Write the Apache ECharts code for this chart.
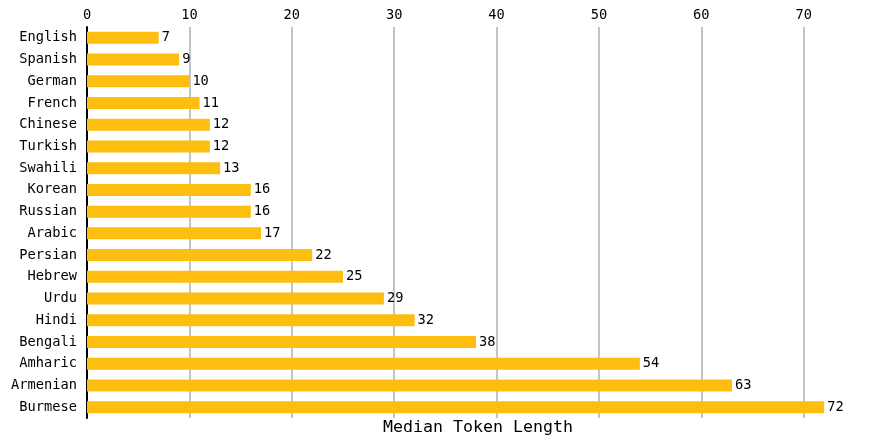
<!DOCTYPE html>
<html>
<head>
<meta charset="utf-8">
<script src="https://cdn.jsdelivr.net/npm/echarts@6/dist/echarts.min.js"></script>
<style>html,body{margin:0;padding:0;background:#fff}#c{width:871px;height:444px}</style>
</head>
<body>
<div id="c"></div>
<script>
const languages = ["English","Spanish","German","French","Chinese","Turkish","Swahili","Korean","Russian","Arabic","Persian","Hebrew","Urdu","Hindi","Bengali","Amharic","Armenian","Burmese"];
const medianTokenLength = [7,9,10,11,12,12,13,16,16,17,22,25,29,32,38,54,63,72];
const xTicks = [0,10,20,30,40,50,60,70];

const font = "'DejaVu Sans Mono', monospace";
const chart = echarts.init(document.getElementById('c'), null, {renderer: 'canvas'});
chart.setOption({
  animation: false,
  backgroundColor: '#ffffff',
  title: {
    text: 'Median Token Length',
    left: 473, bottom: 3, textAlign: 'center',
    textStyle: {fontFamily: font, fontSize: 16.6, fontWeight: 'normal', color: '#000'}
  },
  grid: {left: 87, right: 10, top: 27, bottom: 26, containLabel: false},
  xAxis: {
    type: 'value', position: 'top', min: 0, max: 75.6, interval: 10,
    axisLine: {show: false}, axisTick: {show: false},
    axisLabel: {fontFamily: font, fontSize: 13.7, color: '#000', margin: 5,
      customValues: xTicks},
    splitLine: {show: true, showMaxLine: false, lineStyle: {color: '#b4c0c8', width: 1.8}}
  },
  yAxis: {
    type: 'category', inverse: true, data: languages,
    axisLine: {show: true, lineStyle: {color: '#000', width: 2}},
    axisTick: {show: false},
    axisLabel: {fontFamily: font, fontSize: 13.7, color: '#000', margin: 10},
    splitLine: {show: false}
  },
  series: [{
    type: 'bar', data: medianTokenLength, barWidth: 12,
    itemStyle: {color: '#fdbe10'},
    label: {show: true, position: 'right', distance: 3, fontFamily: font, fontSize: 13.7, color: '#000'}
  }]
});
</script>
</body>
</html>
